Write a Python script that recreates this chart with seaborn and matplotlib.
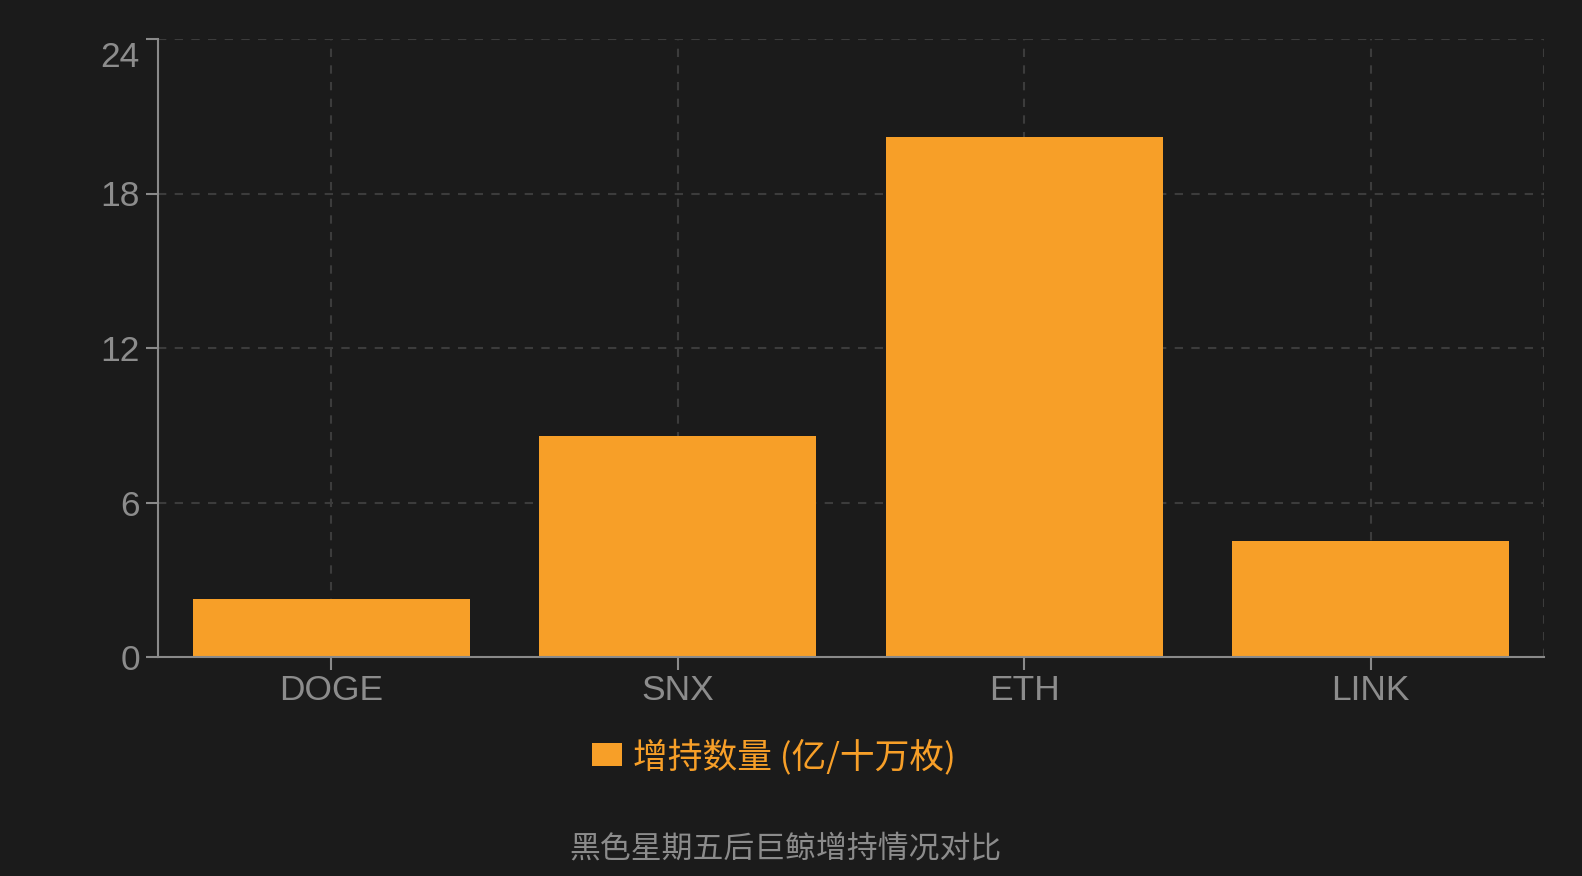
import matplotlib
matplotlib.use("Agg")
import matplotlib.pyplot as plt
import matplotlib.transforms as mtransforms
import seaborn as sns
import pandas as pd
from matplotlib.patches import Patch

categories = ["DOGE", "SNX", "ETH", "LINK"]
values = [2.25, 8.6, 20.2, 4.5]
series_name = "增持数量 (亿/十万枚)"
y_ticks = [0, 6, 12, 18, 24]
caption = "黑色星期五后巨鲸增持情况对比"

BG = "#1b1b1b"
BAR = "#f79f28"
TXT = "#8c8c8c"
GRID = "#3c3c3c"

sns.set_theme(style="dark")
plt.rcParams['font.family'] = ['Liberation Sans', 'Noto Sans CJK SC', 'DejaVu Sans']

fig = plt.figure(figsize=(15.82, 8.76), dpi=100, facecolor=BG)
ax = fig.add_axes([158/1582, 1-657/876, (1544-158)/1582, (657-39)/876])
ax.set_facecolor(BG)

df = pd.DataFrame({"coin": categories, "value": values})
sns.barplot(data=df, x="coin", y="value", color=BAR, saturation=1, width=0.8, ax=ax,
            edgecolor="none", zorder=3)

ax.set_xlim(-0.5, len(categories) - 0.5)
ax.set_ylim(0, 24)
ax.set_yticks(y_ticks)
ax.set_yticklabels([str(v) for v in y_ticks])
ax.set_xlabel("")
ax.set_ylabel("")

for s in ["top", "right"]:
    ax.spines[s].set_visible(False)
for s in ["left", "bottom"]:
    ax.spines[s].set_color("#8a8a8a")
    ax.spines[s].set_linewidth(1.5)
    ax.spines[s].set_zorder(4)

ax.tick_params(axis="both", colors="#8a8a8a", labelcolor=TXT, labelsize=25.5,
               length=9, width=1.5, direction="out")
ax.tick_params(axis="y", pad=4)
ax.tick_params(axis="x", pad=3)
ax.tick_params(left=True, bottom=True)

# top label sits inside the chart area in the reference
top_lab = ax.get_yticklabels()[-1]
top_lab.set_transform(top_lab.get_transform() +
                      mtransforms.ScaledTranslation(0, -15/100, fig.dpi_scale_trans))

ax.grid(True, axis="both", color=GRID, linestyle=(0, (4, 4)), linewidth=1.5, zorder=0)
ax.axvline(len(categories) - 0.5, color=GRID, linestyle=(0, (4, 4)), linewidth=1.5, zorder=0)

handle = Patch(facecolor=BAR, edgecolor="none")
leg = fig.legend([handle], [series_name], loc="center", bbox_to_anchor=(774/1582, 1-757/876),
                 frameon=False, handlelength=0.87, handleheight=0.66,
                 handletextpad=0.3, prop={"family": ["Noto Sans CJK SC", "DejaVu Sans"], "size": 25})
for t in leg.get_texts():
    t.set_color(BAR)

fig.text(785/1582, 1-849/876, caption, ha="center", va="center", color=TXT,
         fontsize=22.2, family=["Noto Sans CJK SC", "DejaVu Sans"])

fig.savefig("out.png", dpi=100, facecolor=BG)
